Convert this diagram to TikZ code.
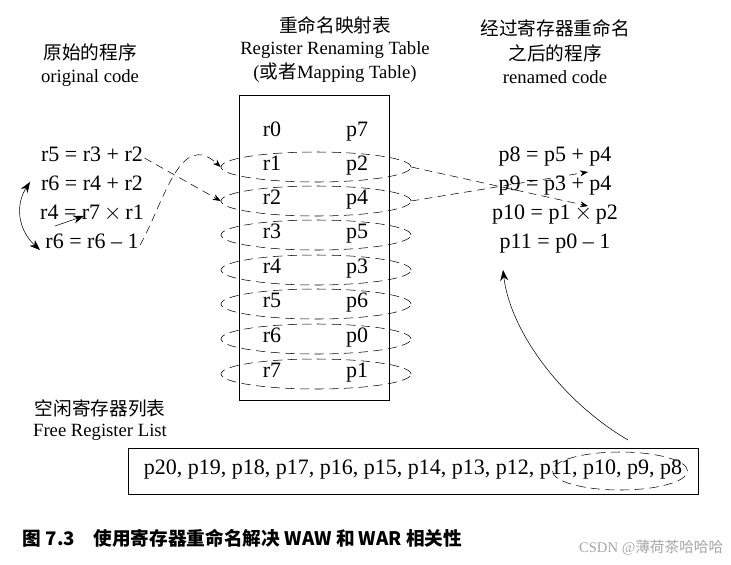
\documentclass[tikz,border=0pt]{standalone}
\usepackage{fontspec}
\setmainfont{Liberation Serif}
\newfontfamily\cjk{Noto Sans CJK SC}
\usetikzlibrary{arrows.meta,shapes.geometric}
\begin{document}
\begin{tikzpicture}[x=0.75pt,y=-0.75pt,
  txt/.style={font=\fontsize{16.5}{18}\selectfont,inner sep=1pt,text height=8.5pt,text depth=3pt},
  hd/.style={font=\fontsize{14}{16}\selectfont,inner sep=1pt},
  ell/.style={draw,dashed,dash pattern=on 7pt off 4pt},
  dl/.style={draw,dashed,dash pattern=on 6pt off 4pt,-{Stealth[length=6pt]}},
  ar/.style={draw,-{Stealth[length=8pt]}}]
\useasboundingbox (0,0) rectangle (731,564);
% headers
\node[hd] (h1) at (90,52) {\cjk 原始的程序};
\node[hd] (h2) at (90,78) {original code};
\node[hd] (t1) at (335,25) {\cjk 重命名映射表};
\node[hd] (t2) at (335,50) {Register Renaming Table};
\node[hd] (t3) at (335,73) {(\cjk 或者\rmfamily Mapping Table)};
\node[hd] (g1) at (555,28) {\cjk 经过寄存器重命名};
\node[hd] (g2) at (555,53) {\cjk 之后的程序};
\node[hd] (g3) at (555,77) {renamed code};
% table
\draw (239,95) rectangle (389,400);
\foreach \r/\p/\y [count=\i from 0] in {r0/p7/133,r1/p2/167,r2/p4/201,r3/p5/235,r4/p3/270,r5/p6/304,r6/p0/339,r7/p1/374}{
  \node[txt] (L\i) at (272,\y) {\r};
  \node[txt] (R\i) at (357,\y) {\p};
}
\foreach \y [count=\i from 1] in {167,201,235,270,304,339,374}{
  \node[ell,ellipse,minimum width=190pt*0.75,minimum height=30pt*0.75,inner sep=0pt] (E\i) at (316,\y) {};
}
% original code
\node[txt] (o1) at (92,158) {r5 = r3 + r2};
\node[txt] (o2) at (92,187) {r6 = r4 + r2};
\node[txt] (o3) at (92,216) {r4 = r7\,$\times$\,r1};
\node[txt] (o4) at (92,245) {r6 = r6 -- 1};
% renamed code
\node[txt] (n1) at (555,158) {p8 = p5 + p4};
\node[txt] (n2) at (555,187) {p9 = p3 + p4};
\node[txt] (n3) at (555,216) {p10 = p1\,$\times$\,p2};
\node[txt] (n4) at (555,245) {p11 = p0 -- 1};
% free list
\node[hd] (f1) at (100,408) {\cjk 空闲寄存器列表};
\node[hd] (f2) at (100,432) {Free Register List};
\node[draw,txt,minimum width=570pt*0.75,minimum height=46pt*0.75] (fl) at (413,471) {p20, p19, p18, p17, p16, p15, p14, p13, p12, p11, p10, p9, p8};
\node[ell,ellipse,minimum width=135pt*0.75,minimum height=38pt*0.75,inner sep=0pt] (fe) at (620,471) {};
% caption
\node[anchor=west,font=\fontsize{14}{16}\selectfont\bfseries] (cap) at (18,538) {\cjk 图 7.3\quad 使用寄存器重命名解决 WAW 和 WAR 相关性};
\node[anchor=east,font=\fontsize{11}{13}\selectfont,text=gray!70] (wm) at (728,548) {CSDN @\cjk 薄荷茶哈哈哈};
% connectors
\path[dl] (o1.east) -- (E2.west);
\path[dl] (o4.east) .. controls (165,200) and (180,130) .. (E1.west);
\path[dl] (E1.east) -- (588,206);
\path[dl] (E2.east) -- (588,172);
\coordinate (c0) at (30,182);
\coordinate (c1) at (40,250);
\path[draw,{Stealth[length=8pt]}-{Stealth[length=8pt]}] (c0) .. controls (15,205) and (18,230) .. (c1);
\coordinate (a0) at (55,226);
\coordinate (a1) at (84,216);
\path[ar] (a0) -- (a1);
\coordinate (b0) at (628,440);
\coordinate (b1) at (503,270);
\path[ar] (b0) .. controls (560,400) and (510,330) .. (b1);
\end{tikzpicture}
\end{document}
